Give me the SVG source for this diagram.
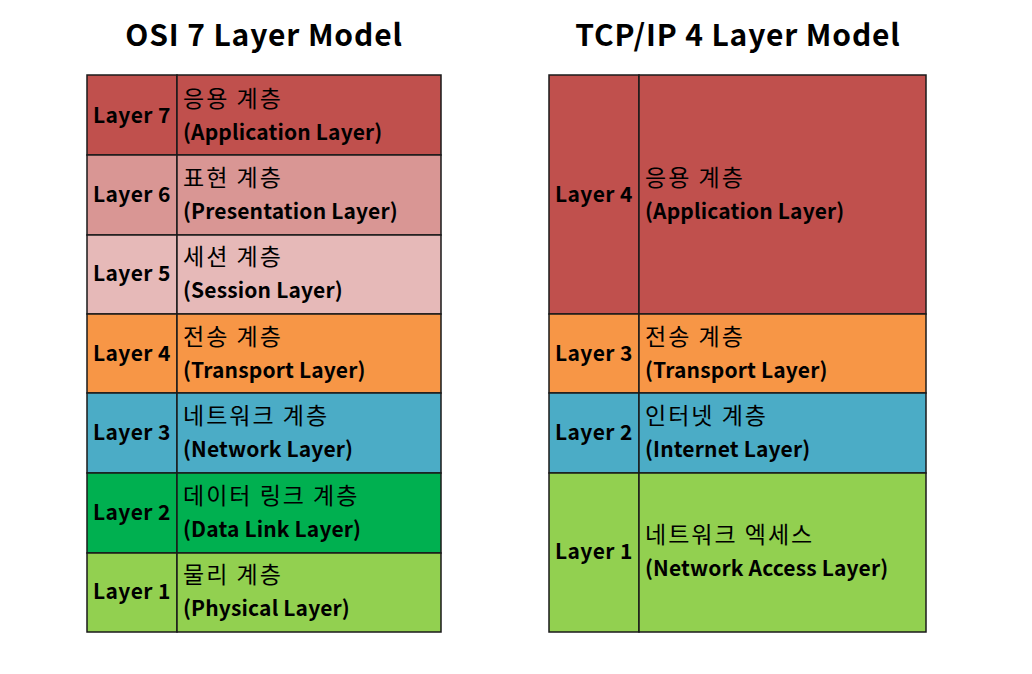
<svg xmlns="http://www.w3.org/2000/svg" width="1032" height="674" viewBox="0 0 1032 674">
<style>
.title{font-family:"Noto Sans CJK KR","Noto Sans",sans-serif;font-weight:bold;font-size:30px;letter-spacing:0.85px;fill:#000;text-anchor:middle}
.lbl{font-family:"Noto Sans CJK KR","Noto Sans",sans-serif;font-weight:bold;font-size:21px;letter-spacing:0.4px;fill:#000}
.ko{font-family:"Noto Sans CJK KR",sans-serif;font-size:23px;letter-spacing:2px;fill:#000}
.en{font-family:"Noto Sans CJK KR","Noto Sans",sans-serif;font-weight:bold;font-size:21px;letter-spacing:0.15px;fill:#000}
rect{stroke:#1a1a1a;stroke-width:1.5}
</style>
<rect x="0" y="0" width="1032" height="674" fill="#fff" style="stroke:none"/>
<text class="title" x="264" y="46">OSI 7 Layer Model</text>
<text class="title" x="738" y="46">TCP/IP 4 Layer Model</text>

<g id="osi-l7"><rect x="87" y="75" width="90" height="80" fill="#C0504D"/><rect x="177" y="75" width="264" height="80" fill="#C0504D"/>
<text class="lbl" x="93" y="123">Layer 7</text><text class="ko" x="183" y="107">응용 계층</text><text class="en" x="183" y="140">(Application Layer)</text></g>
<g id="osi-l6"><rect x="87" y="155" width="90" height="80" fill="#D99694"/><rect x="177" y="155" width="264" height="80" fill="#D99694"/>
<text class="lbl" x="93" y="202">Layer 6</text><text class="ko" x="183" y="186">표현 계층</text><text class="en" x="183" y="219">(Presentation Layer)</text></g>
<g id="osi-l5"><rect x="87" y="235" width="90" height="79" fill="#E6B9B8"/><rect x="177" y="235" width="264" height="79" fill="#E6B9B8"/>
<text class="lbl" x="93" y="281">Layer 5</text><text class="ko" x="183" y="265">세션 계층</text><text class="en" x="183" y="298">(Session Layer)</text></g>
<g id="osi-l4"><rect x="87" y="314" width="90" height="79" fill="#F79646"/><rect x="177" y="314" width="264" height="79" fill="#F79646"/>
<text class="lbl" x="93" y="361">Layer 4</text><text class="ko" x="183" y="345">전송 계층</text><text class="en" x="183" y="378">(Transport Layer)</text></g>
<g id="osi-l3"><rect x="87" y="393" width="90" height="80" fill="#4BACC6"/><rect x="177" y="393" width="264" height="80" fill="#4BACC6"/>
<text class="lbl" x="93" y="440">Layer 3</text><text class="ko" x="183" y="424">네트워크 계층</text><text class="en" x="183" y="457">(Network Layer)</text></g>
<g id="osi-l2"><rect x="87" y="473" width="90" height="80" fill="#00B050"/><rect x="177" y="473" width="264" height="80" fill="#00B050"/>
<text class="lbl" x="93" y="520">Layer 2</text><text class="ko" x="183" y="504">데이터 링크 계층</text><text class="en" x="183" y="537">(Data Link Layer)</text></g>
<g id="osi-l1"><rect x="87" y="553" width="90" height="79" fill="#92D050"/><rect x="177" y="553" width="264" height="79" fill="#92D050"/>
<text class="lbl" x="93" y="599">Layer 1</text><text class="ko" x="183" y="583">물리 계층</text><text class="en" x="183" y="616">(Physical Layer)</text></g>

<g id="tcp-l4"><rect x="549" y="75" width="90" height="239" fill="#C0504D"/><rect x="639" y="75" width="287" height="239" fill="#C0504D"/>
<text class="lbl" x="555" y="202">Layer 4</text><text class="ko" x="645" y="186">응용 계층</text><text class="en" x="645" y="219">(Application Layer)</text></g>
<g id="tcp-l3"><rect x="549" y="314" width="90" height="79" fill="#F79646"/><rect x="639" y="314" width="287" height="79" fill="#F79646"/>
<text class="lbl" x="555" y="361">Layer 3</text><text class="ko" x="645" y="345">전송 계층</text><text class="en" x="645" y="378">(Transport Layer)</text></g>
<g id="tcp-l2"><rect x="549" y="393" width="90" height="80" fill="#4BACC6"/><rect x="639" y="393" width="287" height="80" fill="#4BACC6"/>
<text class="lbl" x="555" y="440">Layer 2</text><text class="ko" x="645" y="424">인터넷 계층</text><text class="en" x="645" y="457">(Internet Layer)</text></g>
<g id="tcp-l1"><rect x="549" y="473" width="90" height="159" fill="#92D050"/><rect x="639" y="473" width="287" height="159" fill="#92D050"/>
<text class="lbl" x="555" y="559">Layer 1</text><text class="ko" x="645" y="543">네트워크 엑세스</text><text class="en" x="645" y="576">(Network Access Layer)</text></g>
<g id="connectors"/>
</svg>
